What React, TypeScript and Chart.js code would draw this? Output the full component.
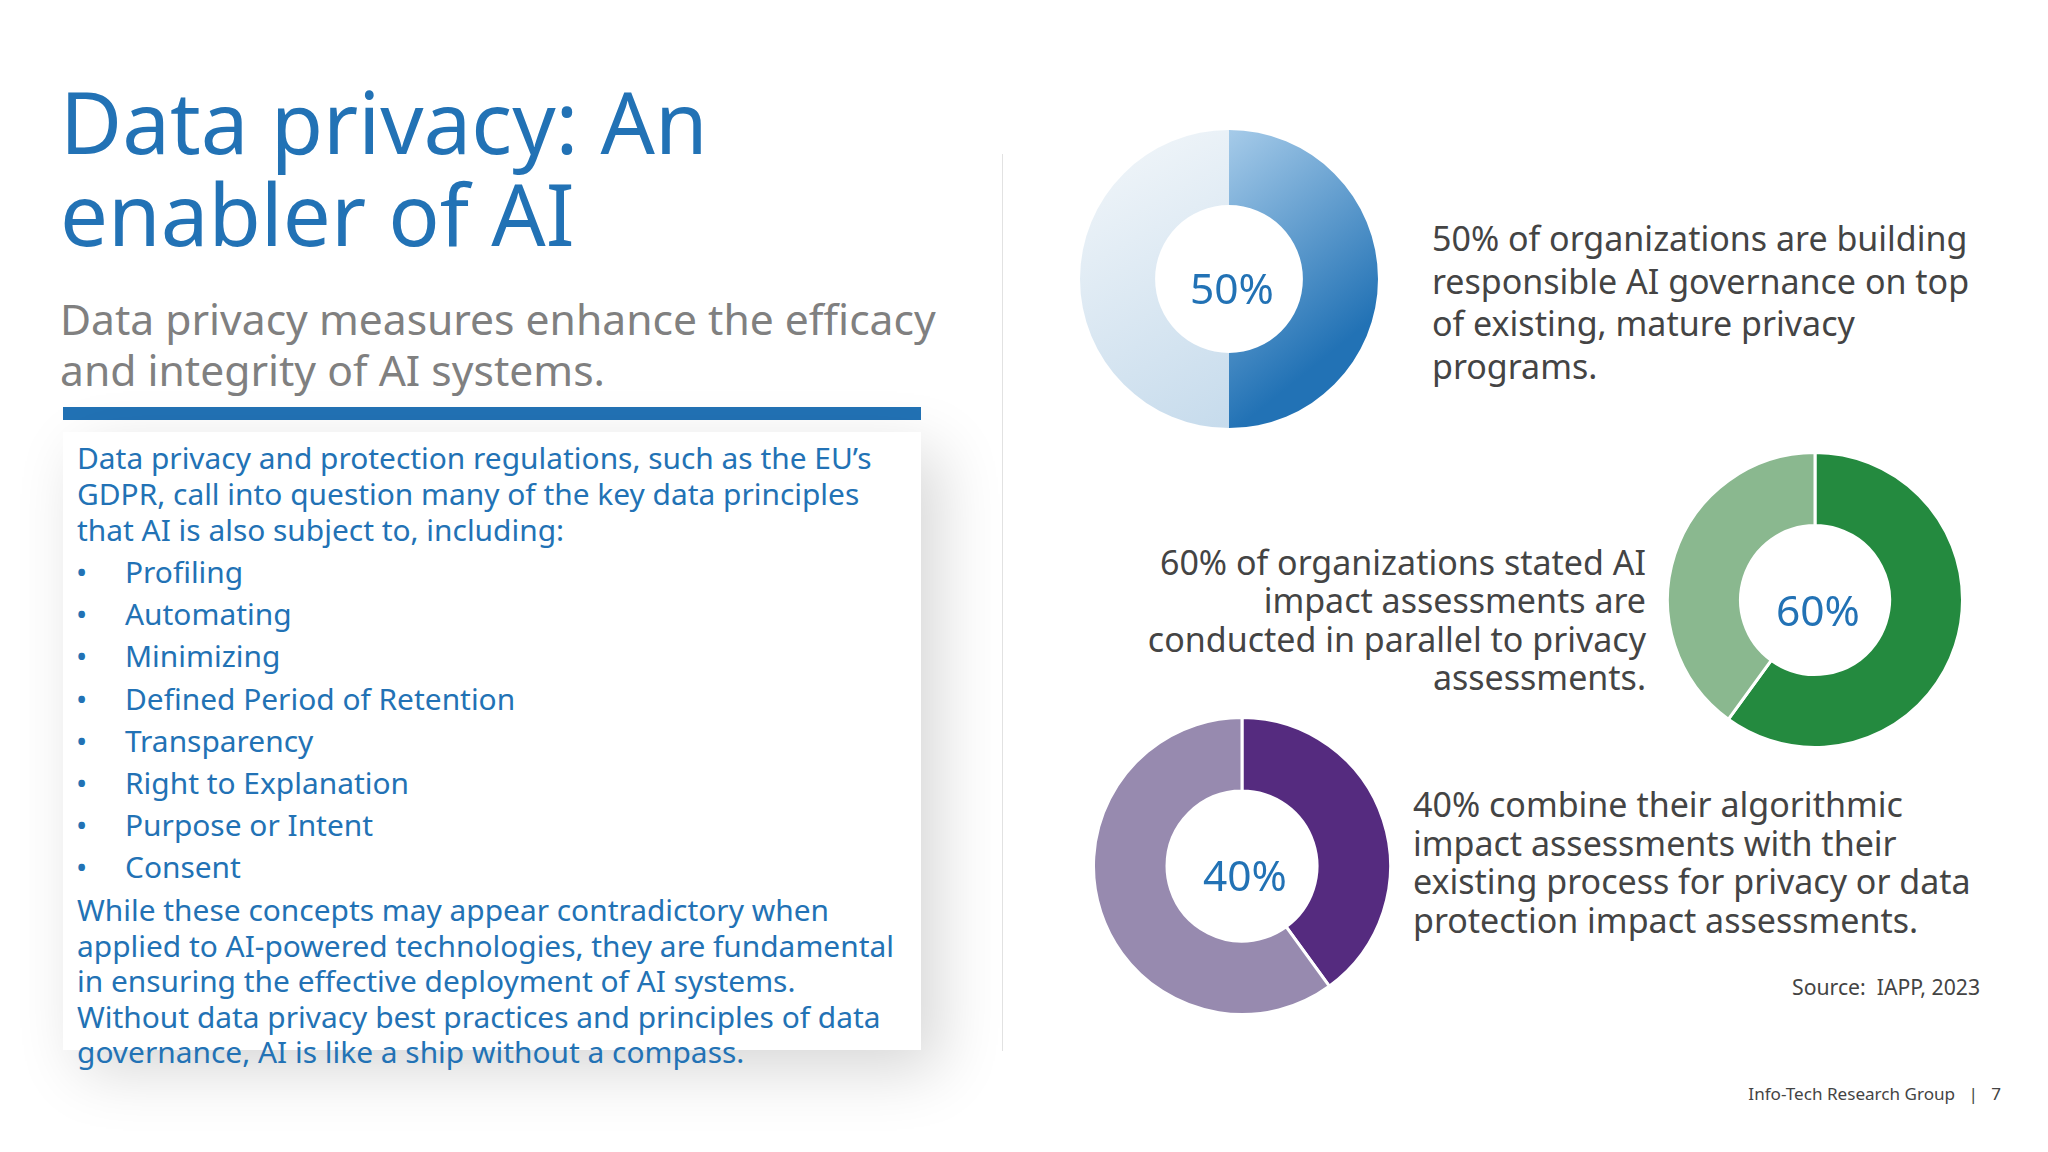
import { useEffect, useRef } from 'react';
import type { CSSProperties } from 'react';
import { Chart, registerables } from 'chart.js';

Chart.register(...registerables);

const sliceLabels = ['Yes', 'Other'];
const governanceValues = [50, 50];
const parallelValues = [60, 40];
const combinedValues = [40, 60];

const titleLines = ['Data privacy: An', 'enabler of AI'];
const subtitleLines = ['Data privacy measures enhance the efficacy', 'and integrity of AI systems.'];
const introLines = [
  'Data privacy and protection regulations, such as the EU’s',
  'GDPR, call into question many of the key data principles',
  'that AI is also subject to, including:',
];
const bulletItems = [
  'Profiling',
  'Automating',
  'Minimizing',
  'Defined Period of Retention',
  'Transparency',
  'Right to Explanation',
  'Purpose or Intent',
  'Consent',
];
const closingLines = [
  'While these concepts may appear contradictory when',
  'applied to AI-powered technologies, they are fundamental',
  'in ensuring the effective deployment of AI systems.',
  'Without data privacy best practices and principles of data',
  'governance, AI is like a ship without a compass.',
];
const governanceText = [
  '50% of organizations are building',
  'responsible AI governance on top',
  'of existing, mature privacy',
  'programs.',
];
const parallelText = [
  '60% of organizations stated AI',
  'impact assessments are',
  'conducted in parallel to privacy',
  'assessments.',
];
const combinedText = [
  '40% combine their algorithmic',
  'impact assessments with their',
  'existing process for privacy or data',
  'protection impact assessments.',
];

const BLUE = '#2272b5';
const FONT = '"Noto Sans", sans-serif';

interface DonutProps {
  values: number[];
  colors: (ctx: CanvasRenderingContext2D, size: number) => (string | CanvasGradient)[];
  left: number;
  top: number;
  size: number;
  cutout: string;
  gap: number;
}

function Donut({ values, colors, left, top, size, cutout, gap }: DonutProps) {
  const canvasRef = useRef<HTMLCanvasElement>(null);

  useEffect(() => {
    if (!canvasRef.current) return;
    const ctx = canvasRef.current.getContext('2d');
    if (!ctx) return;

    const chart = new Chart(ctx, {
      type: 'doughnut',
      data: {
        labels: sliceLabels,
        datasets: [
          {
            data: values,
            backgroundColor: colors(ctx, size),
            borderColor: '#ffffff',
            borderWidth: gap,
          },
        ],
      },
      options: {
        responsive: false,
        animation: false,
        cutout,
        plugins: { legend: { display: false }, tooltip: { enabled: false } },
      },
    });

    return () => chart.destroy();
  }, [values, colors, size, cutout, gap]);

  return (
    <canvas
      ref={canvasRef}
      width={size}
      height={size}
      style={{ position: 'absolute', left, top, width: size, height: size }}
    />
  );
}

// top slice fades from pale at the top left to full blue at the bottom right
const blueColors = (ctx: CanvasRenderingContext2D, size: number) => {
  const dark = ctx.createLinearGradient(size * 0.5, 0, size, size * 0.62);
  dark.addColorStop(0, '#a6cbe9');
  dark.addColorStop(1, '#2272b5');
  const pale = ctx.createLinearGradient(0, size * 0.1, size * 0.5, size);
  pale.addColorStop(0, '#f0f5f9');
  pale.addColorStop(1, '#c6dbec');
  return [dark, pale];
};
const greenColors = () => ['#248a3f', '#8ab88f'];
const purpleColors = () => ['#552b7f', '#978aaf'];

function TextLines({
  lines, x, y, size, step, color, right,
}: { lines: string[]; x: number; y: number; size: number; step: number; color: string; right?: boolean }) {
  return (
    <>
      {lines.map((line, i) => {
        const style: CSSProperties = {
          position: 'absolute',
          top: y + i * step,
          fontSize: size,
          lineHeight: `${step}px`,
          color,
          whiteSpace: 'pre',
        };
        if (right) style.right = 2048 - x;
        else style.left = x;
        return <div key={line} style={style}>{line}</div>;
      })}
    </>
  );
}

export default function App() {
  useEffect(() => {
    document.body.style.margin = '0';
  }, []);

  return (
    <div style={{ position: 'relative', width: 2048, height: 1152, background: '#fff', fontFamily: FONT, overflow: 'hidden' }}>
      <TextLines lines={titleLines} x={60} y={75} size={85.2} step={92} color={BLUE} />
      <TextLines lines={subtitleLines} x={60} y={293} size={42.6} step={51} color="#808080" />

      <div style={{ position: 'absolute', left: 63, top: 407, width: 858, height: 13, background: BLUE }} />
      <div
        style={{
          position: 'absolute', left: 63, top: 432, width: 858, height: 618, background: '#fff',
          boxShadow: '18px 20px 60px rgba(0,0,0,0.16)',
        }}
      />

      <TextLines lines={introLines} x={77} y={440} size={29.9} step={36} color={BLUE} />
      {bulletItems.map((item, i) => (
        <div key={item}>
          <TextLines lines={['•']} x={76} y={551 + i * 42.2} size={29.9} step={42} color={BLUE} />
          <TextLines lines={[item]} x={125} y={551 + i * 42.2} size={29.9} step={42} color={BLUE} />
        </div>
      ))}
      <TextLines lines={closingLines} x={77} y={892} size={29.9} step={35.6} color={BLUE} />

      <div style={{ position: 'absolute', left: 1002, top: 154, width: 1, height: 897, background: '#e2e2e2' }} />

      <Donut values={governanceValues} colors={blueColors} left={1080} top={130} size={298} cutout="49.6%" gap={0} />
      <Donut values={parallelValues} colors={greenColors} left={1666} top={451} size={298} cutout="50.5%" gap={3} />
      <Donut values={combinedValues} colors={purpleColors} left={1092} top={716} size={300} cutout="50.5%" gap={3} />

      <TextLines lines={['50%']} x={1190} y={263} size={42.5} step={50} color={BLUE} />
      <TextLines lines={['60%']} x={1776} y={585} size={42.5} step={50} color={BLUE} />
      <TextLines lines={['40%']} x={1203} y={850} size={42.5} step={50} color={BLUE} />

      <TextLines lines={governanceText} x={1432} y={217} size={34} step={42.7} color="#444444" />
      <TextLines lines={parallelText} x={1646} y={543} size={34} step={38.3} color="#444444" right />
      <TextLines lines={combinedText} x={1413} y={785} size={34} step={38.7} color="#444444" />

      <TextLines lines={['Source:  IAPP, 2023']} x={1980} y={973} size={21.2} step={28} color="#444444" right />
      <TextLines lines={['Info-Tech Research Group   |   7']} x={2001} y={1082} size={17.1} step={24} color="#444444" right />
    </div>
  );
}
